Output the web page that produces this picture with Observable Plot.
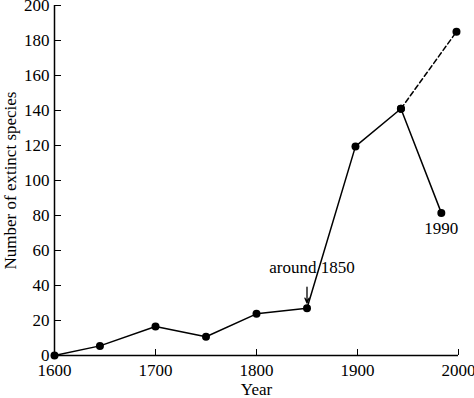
<!DOCTYPE html>
<html><head><meta charset="utf-8">
<script src="https://cdn.jsdelivr.net/npm/d3@7"></script>
<script src="https://cdn.jsdelivr.net/npm/@observablehq/plot@0.6"></script>
<style>body{margin:0;background:#fff;} svg{overflow:visible}</style>
</head><body><div id="chart"></div>
<script>
const years = [1600, 1645, 1700, 1750, 1800, 1850, 1898, 1943, 1983];
const counts = [0, 5.5, 16.6, 10.7, 23.8, 27, 119.5, 141, 81.5];
const projYears = [1943, 1998];
const projCounts = [141, 185];
const xTicks = [1600, 1700, 1800, 1900, 2000];
const yTicks = [0, 20, 40, 60, 80, 100, 120, 140, 160, 180, 200];
const noteText = "around 1850";
const noteYear = 1850;
const arrowFrom = 39;
const arrowTo = 30;
const endLabel = "1990";

const obs = years.map((y, i) => ({year: y, count: counts[i]}));
const proj = projYears.map((y, i) => ({year: y, count: projCounts[i]}));

const chart = Plot.plot({
  width: 474, height: 398,
  marginLeft: 54, marginRight: 16, marginTop: 5, marginBottom: 43,
  style: {fontFamily: "'Liberation Serif', 'Times New Roman', serif", fontSize: "17px", color: "black", background: "white"},
  x: {domain: [1600, 2000]},
  y: {domain: [0, 200]},
  marks: [
    Plot.axisX({ticks: xTicks, tickFormat: d => String(d), tickSize: -6, tickPadding: 14, label: "Year", labelAnchor: "center", labelArrow: "none", labelOffset: 39, fontSize: 17}),
    Plot.axisY({ticks: yTicks, tickSize: -7, tickPadding: 12, label: "Number of extinct species", labelAnchor: "center", labelArrow: "none", labelOffset: 51, fontSize: 17}),
    Plot.ruleX([1600], {stroke: "black", strokeWidth: 1.5}),
    Plot.ruleY([0], {stroke: "black", strokeWidth: 1.5}),
    Plot.line(obs, {x: "year", y: "count", stroke: "black", strokeWidth: 1.5}),
    Plot.line(proj, {x: "year", y: "count", stroke: "black", strokeWidth: 1.5, strokeDasharray: "5,3"}),
    Plot.dot(obs, {x: "year", y: "count", r: 4, fill: "black"}),
    Plot.dot(proj, {x: "year", y: "count", r: 4, fill: "black"}),
    Plot.text([obs[obs.length - 1]], {x: "year", y: "count", text: () => endLabel, dy: 16, fill: "black", fontSize: 17}),
    Plot.text([obs[5]], {x: "year", y: "count", text: () => noteText, dy: -41, dx: 5, fill: "black", fontSize: 17}),
    Plot.arrow([{x: noteYear, y1: arrowFrom, y2: arrowTo}], {x: "x", y1: "y1", y2: "y2", stroke: "black", strokeWidth: 1.3, headLength: 9, headAngle: 45})
  ]
});
document.getElementById("chart").appendChild(chart);
</script></body></html>
